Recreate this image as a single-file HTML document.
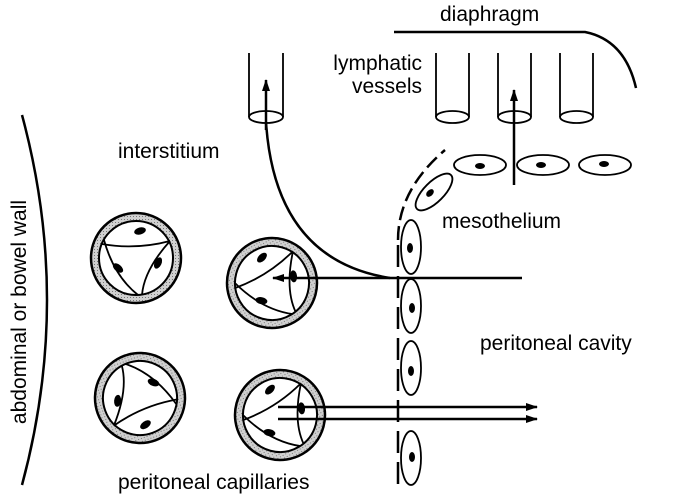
<!DOCTYPE html>
<html><head><meta charset="utf-8"><style>
html,body{margin:0;padding:0;background:#fff;}
svg{display:block;}
text{font-family:"Liberation Sans",sans-serif;fill:#000;}
</style></head><body>
<svg width="685" height="500" viewBox="0 0 685 500" xmlns="http://www.w3.org/2000/svg">
<defs>
<pattern id="dots" width="3" height="3" patternUnits="userSpaceOnUse">
<rect width="3" height="3" fill="#d0d0d0"/><rect width="1" height="1" fill="#777"/>
</pattern>
<marker id="ah" markerWidth="12" markerHeight="8" refX="11" refY="4" orient="auto" markerUnits="userSpaceOnUse">
<path d="M0,0 L12,4 L0,8 Z" fill="#000"/>
</marker>
<g id="cap">
<circle r="45" fill="url(#dots)" stroke="#000" stroke-width="2.5"/>
<circle r="37" fill="#fff" stroke="#000" stroke-width="2"/>
<path d="M-34,-14 Q0,-8 34,-17 M-32,-18 Q-22,18 2,37 M34,-17 Q8,12 6,37" fill="none" stroke="#000" stroke-width="1.8"/>
<ellipse cx="4" cy="-27" rx="6" ry="3.5" transform="rotate(-15 4 -27)"/>
<ellipse cx="-18" cy="10" rx="6" ry="3.5" transform="rotate(40 -18 10)"/>
<ellipse cx="22" cy="5" rx="6" ry="3.5" transform="rotate(-65 22 5)"/>
</g>
</defs>
<g stroke="#000" fill="none" stroke-width="2.5">
<path d="M22,115 Q72,300 22,485"/>
<path d="M394,32 L585,32 Q625,40 636,88"/>
</g>
<g stroke="#000" fill="none" stroke-width="1.8">
<path d="M249,53 V117 M283,53 V117"/><ellipse cx="266" cy="117" rx="17" ry="6"/>
<path d="M436,53 V117 M469,53 V117"/><ellipse cx="452.5" cy="117" rx="16.5" ry="6"/>
<path d="M498,53 V117 M531,53 V117"/><ellipse cx="514.5" cy="117" rx="16.5" ry="6"/>
<path d="M560,53 V117 M593,53 V117"/><ellipse cx="576.5" cy="117" rx="16.5" ry="6"/>
</g>
<use href="#cap" x="136" y="258"/>
<use href="#cap" transform="translate(272 283) rotate(-30)"/>
<use href="#cap" transform="translate(140 398) rotate(160)"/>
<use href="#cap" transform="translate(280 415) rotate(-30)"/>
<g stroke="#000" stroke-width="1.8" fill="#fff">
<ellipse cx="480" cy="165" rx="26" ry="10"/>
<ellipse cx="543" cy="165" rx="26" ry="10"/>
<ellipse cx="605" cy="165" rx="26" ry="10"/>
<ellipse cx="434" cy="192" rx="10" ry="24" transform="rotate(45 434 192)"/>
<ellipse cx="411" cy="247" rx="10" ry="27"/>
<ellipse cx="411" cy="306" rx="10" ry="27"/>
<ellipse cx="411" cy="368" rx="10" ry="27"/>
<ellipse cx="411" cy="458" rx="10" ry="27"/>
</g>
<g fill="#000">
<ellipse cx="480" cy="166" rx="5" ry="3"/><ellipse cx="541" cy="165" rx="5" ry="3"/><ellipse cx="604" cy="164" rx="5" ry="3"/>
<ellipse cx="430" cy="193" rx="3" ry="4.5" transform="rotate(45 430 193)"/>
<ellipse cx="410" cy="248" rx="3" ry="5"/><ellipse cx="412" cy="308" rx="3" ry="5"/>
<ellipse cx="411" cy="371" rx="3" ry="5"/><ellipse cx="412" cy="457" rx="3" ry="5"/>
</g>
<path d="M398,240 Q398,190 445,150" stroke="#000" stroke-width="2.5" fill="none" stroke-dasharray="14,6"/>
<path d="M398,245 L398,490" stroke="#000" stroke-width="2.5" fill="none" stroke-dasharray="22,9"/>
<g stroke="#000" fill="none" stroke-width="2.5">
<path d="M266,130 L266,80" marker-end="url(#ah)"/>
<path d="M266,122 Q275,260 390,278"/>
<path d="M522,278 L273,278" marker-end="url(#ah)"/>
<path d="M514,185 L514,90" marker-end="url(#ah)"/>
<path d="M278,407 L537,407" marker-end="url(#ah)"/>
<path d="M278,419 L537,419" marker-end="url(#ah)"/>
</g>
<g font-size="21">
<text x="440" y="21">diaphragm</text>
<text x="422" y="70" text-anchor="end">lymphatic</text>
<text x="422" y="93" text-anchor="end">vessels</text>
<text x="118" y="158">interstitium</text>
<text x="442" y="228">mesothelium</text>
<text x="480" y="350">peritoneal cavity</text>
<text x="118" y="489">peritoneal capillaries</text>
<text transform="translate(26,312) rotate(-90)" text-anchor="middle">abdominal or bowel wall</text>
</g>
</svg>
</body></html>
